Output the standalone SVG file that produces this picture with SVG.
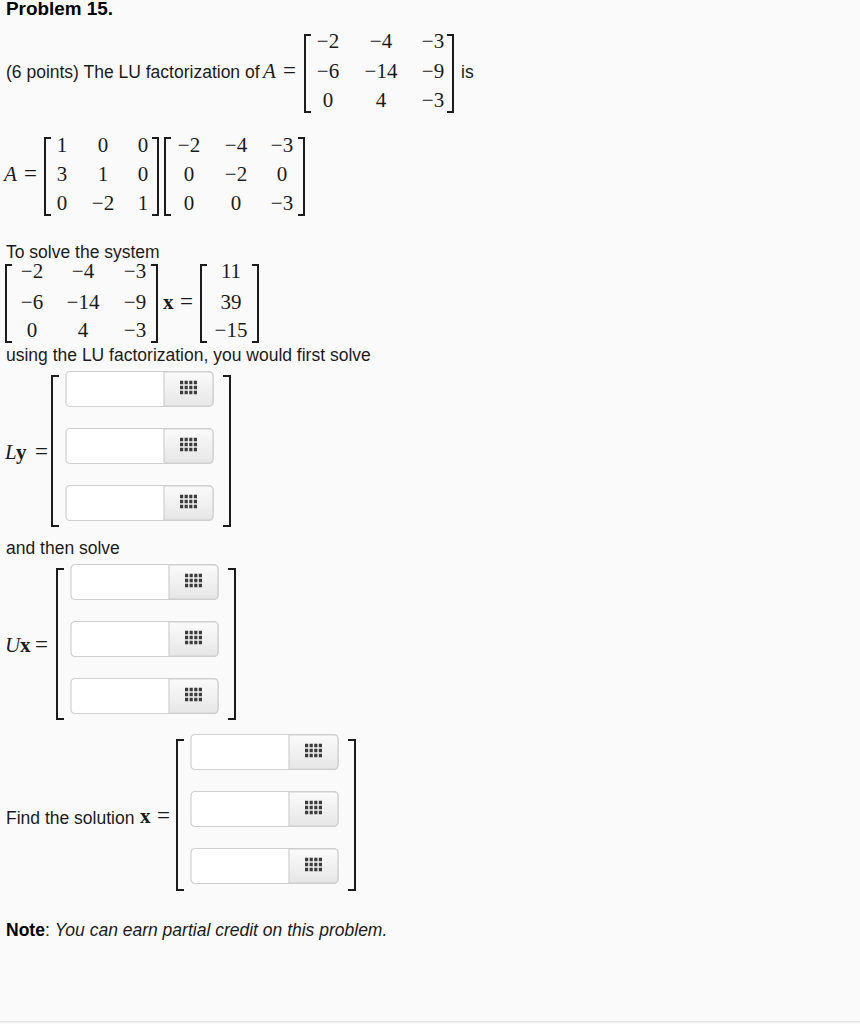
<svg xmlns="http://www.w3.org/2000/svg" width="860" height="1024" viewBox="0 0 860 1024">
<style>
.t{font-family:"Liberation Sans",Arial,sans-serif;font-size:17.5px;fill:#1a1a1a}
.b{font-weight:bold;fill:#000}
.m{font-family:"Liberation Serif","Times New Roman",serif;font-size:21px;fill:#1a1a1a}
.e{font-size:23px}
.c{text-anchor:middle}
.i{font-style:italic}
.br{fill:none;stroke:#1c1c1c;stroke-width:2}
</style>
<defs>
<linearGradient id="g" x1="0" y1="0" x2="0" y2="1"><stop offset="0" stop-color="#fbfbfb"/><stop offset="1" stop-color="#e6e6e6"/></linearGradient>
<g id="inp">
<rect x="0.5" y="0.5" width="147" height="35" rx="4" fill="#fff" stroke="#cfcfcf" stroke-width="1.2"/>
<path d="M98.5 1H143.5a4 4 0 0 1 4 4V31a4 4 0 0 1-4 4H98.5Z" fill="url(#g)" stroke="#cfcfcf" stroke-width="1.2"/>
<path d="M114.5 11.5h17M114.5 16.5h17M114.5 21.5h17" stroke="#3c3c3c" stroke-width="3.4" stroke-dasharray="3.2 1.4" fill="none"/>
</g>
</defs>
<rect width="860" height="1024" fill="#fafafa"/>
<rect x="0" y="1021" width="860" height="1.5" fill="#e4e4e4"/>

<g id="title"><text class="t b" x="6" y="15" style="font-size:18.9px">Problem 15.</text></g>

<g id="statement">
<text class="t" x="6" y="78">(6 points) The LU factorization of</text>
<text class="m i" x="263" y="78">A</text><text class="m e" x="283" y="78">=</text>
<path class="br" d="M311 35H305V112H311M447 35H453V112H447"/>
<g class="m c">
<text x="328" y="48">−2</text><text x="381" y="48">−4</text><text x="433" y="48">−3</text>
<text x="328" y="78">−6</text><text x="381" y="78">−14</text><text x="433" y="78">−9</text>
<text x="328" y="107">0</text><text x="381" y="107">4</text><text x="433" y="107">−3</text>
</g>
<text class="t" x="461" y="78">is</text>
</g>

<g id="factorization">
<text class="m i" x="4" y="181">A</text><text class="m e" x="24" y="181">=</text>
<path class="br" d="M51 138H45V215H51M152 138H158V215H152M171 138H165V215H171M298 138H304V215H298"/>
<g class="m c">
<text x="62" y="152">1</text><text x="103" y="152">0</text><text x="143" y="152">0</text>
<text x="62" y="181">3</text><text x="103" y="181">1</text><text x="143" y="181">0</text>
<text x="62" y="210">0</text><text x="103" y="210">−2</text><text x="143" y="210">1</text>
<text x="189" y="152">−2</text><text x="236" y="152">−4</text><text x="282" y="152">−3</text>
<text x="189" y="181">0</text><text x="236" y="181">−2</text><text x="282" y="181">0</text>
<text x="189" y="210">0</text><text x="236" y="210">0</text><text x="282" y="210">−3</text>
</g>
</g>

<g id="system">
<text class="t" x="6" y="258">To solve the system</text>
<path class="br" d="M12 265H6V342H12M151 265H157V342H151M207 265H201V342H207M252 265H258V342H252"/>
<g class="m c">
<text x="32" y="278">−2</text><text x="83" y="278">−4</text><text x="135" y="278">−3</text>
<text x="32" y="309">−6</text><text x="83" y="309">−14</text><text x="135" y="309">−9</text>
<text x="32" y="337">0</text><text x="83" y="337">4</text><text x="135" y="337">−3</text>
<text x="231" y="278">11</text><text x="231" y="309">39</text><text x="231" y="337">−15</text>
</g>
<text class="m b" x="163" y="309">x</text><text class="m e" x="180" y="309">=</text>
<text class="t" x="6" y="361">using the LU factorization, you would first solve</text>
</g>

<g id="ly">
<text class="m i" x="5" y="459">L</text><text class="m b" x="16" y="459">y</text><text class="m e" x="35" y="459">=</text>
<path class="br" d="M59 376H52V526H59M223 376H230V526H223"/>
<use href="#inp" x="65.5" y="371"/><use href="#inp" x="65.5" y="428"/><use href="#inp" x="65.5" y="485"/>
</g>

<g id="then"><text class="t" x="6" y="554">and then solve</text></g>

<g id="ux">
<text class="m i" x="5" y="652">U</text><text class="m b" x="20" y="652">x</text><text class="m e" x="35" y="652">=</text>
<path class="br" d="M64 569H57V719H64M228 569H235V719H228"/>
<use href="#inp" x="70.5" y="564"/><use href="#inp" x="70.5" y="621"/><use href="#inp" x="70.5" y="678"/>
</g>

<g id="solution">
<text class="t" x="6" y="824">Find the solution</text>
<text class="m b" x="140" y="823">x</text><text class="m e" x="157" y="823">=</text>
<path class="br" d="M184 740H177V890H184M348 740H355V890H348"/>
<use href="#inp" x="190.5" y="734"/><use href="#inp" x="190.5" y="791"/><use href="#inp" x="190.5" y="848"/>
</g>

<g id="note"><text class="t" x="6" y="936"><tspan class="b">Note</tspan>: <tspan class="i">You can earn partial credit on this problem.</tspan></text></g>
</svg>
